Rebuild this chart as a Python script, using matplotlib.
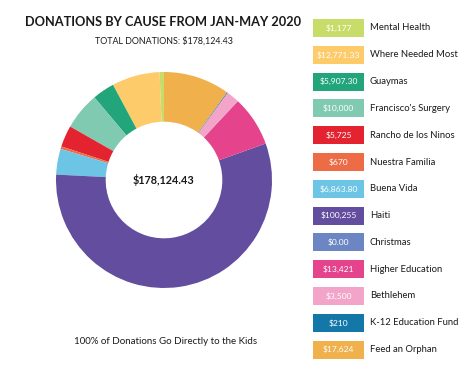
import matplotlib
matplotlib.use("Agg")
import matplotlib.pyplot as plt
from matplotlib.patches import Rectangle

plt.rcParams['font.family'] = ['Lato', 'DejaVu Sans']

categories = ["Mental Health", "Where Needed Most", "Guaymas", "Francisco's Surgery",
              "Rancho de los Ninos", "Nuestra Familia", "Buena Vida", "Haiti", "Christmas",
              "Higher Education", "Bethlehem", "K-12 Education Fund", "Feed an Orphan"]
values = [1177, 12771.33, 5907.30, 10000, 5725, 670, 6863.80, 100255, 0.00,
          13421, 3500, 210, 17624]
value_labels = ["$1,177", "$12,771.33", "$5,907.30", "$10,000", "$5,725", "$670",
                "$6,863.80", "$100,255", "$0.00", "$13,421", "$3,500", "$210", "$17,624"]
colors = ["#c8dc6a", "#fdcb6a", "#23a57c", "#7fcab0", "#e3232f", "#ee6c45", "#6cc5e4",
          "#624d9f", "#6c86c4", "#e5448d", "#f2a5c9", "#1378a8", "#f0b04b"]
title = "DONATIONS BY CAUSE FROM JAN-MAY 2020"
subtitle = "TOTAL DONATIONS: $178,124.43"
center_label = "$178,124.43"
footnote = "100% of Donations Go Directly to the Kids"

W, H = 474, 373
fig = plt.figure(figsize=(W / 100, H / 100), dpi=100)
fig.patch.set_facecolor("white")

def fx(px):
    return px / W

def fy(py):
    return 1 - py / H

# donut
cx, cy, r = 164, 180, 108
ax = fig.add_axes([fx(cx - r), fy(cy + r), 2 * r / W, 2 * r / H])
ax.pie(values, colors=colors, startangle=90, counterclock=True,
       wedgeprops=dict(width=0.46, edgecolor="none"), radius=1)
ax.set_xlim(-1, 1)
ax.set_ylim(-1, 1)
ax.set_aspect("auto")
ax.axis("off")
ax.text(0, 0, center_label, ha="center", va="center", fontsize=7.8, fontweight="bold",
        color="#1a1a1a")

fig.text(fx(163), fy(22), title, ha="center", va="center", fontsize=9.2,
         fontweight="bold", color="#1a1a1a")
fig.text(fx(164), fy(41), subtitle, ha="center", va="center", fontsize=6.4, color="#1a1a1a")
fig.text(fx(166), fy(342), footnote, ha="center", va="center", fontsize=7.0, color="#1a1a1a")

# legend
x0, x1 = 313, 364
y_first, step, bh = 28, 26.8, 18
for i, (lab, vl, c) in enumerate(zip(categories, value_labels, colors)):
    yc = y_first + i * step
    rect = Rectangle((fx(x0), fy(yc + bh / 2)), (x1 - x0) / W, bh / H,
                     transform=fig.transFigure, facecolor=c, edgecolor="none")
    fig.patches.append(rect)
    fig.text(fx((x0 + x1) / 2), fy(yc), vl, ha="center", va="center", fontsize=6.1,
             color="white")
    fig.text(fx(370), fy(yc), lab, ha="left", va="center", fontsize=6.8, color="#1a1a1a")

fig.savefig("out.png", dpi=100, facecolor="white")
